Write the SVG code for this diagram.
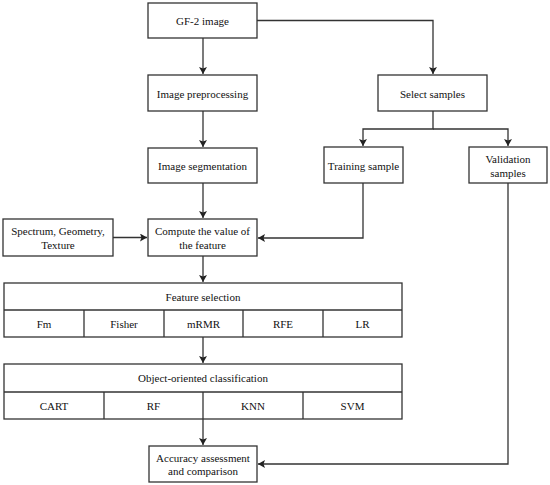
<svg xmlns="http://www.w3.org/2000/svg" width="550" height="485" viewBox="0 0 550 485">
<defs>
<marker id="ah" markerWidth="8" markerHeight="8" refX="7" refY="4" orient="auto" markerUnits="userSpaceOnUse">
<path d="M0,0 L7,4 L0,8 L1.5,4 Z" fill="#222"/>
</marker>
</defs>
<style>
rect{fill:#fff;stroke:#333;stroke-width:1.3}
.d{stroke:#333;stroke-width:1.3}
text{font-size:11px;fill:#111;text-anchor:middle;dominant-baseline:central}
.c{fill:none;stroke:#333;stroke-width:1.3}
</style>
<rect x="0" y="0" width="550" height="485" style="fill:#fff;stroke:none"/>
<g id="connectors">
<path class="c" d="M203,38 V74" marker-end="url(#ah)"/>
<path class="c" d="M203,111 V147" marker-end="url(#ah)"/>
<path class="c" d="M203,183 V218" marker-end="url(#ah)"/>
<path class="c" d="M113,237.5 H147" marker-end="url(#ah)"/>
<path class="c" d="M257,20.5 H433 V74" marker-end="url(#ah)"/>
<path class="c" d="M433,111 V129 H363 V146" marker-end="url(#ah)"/>
<path class="c" d="M433,129 H508 V146" marker-end="url(#ah)"/>
<path class="c" d="M363,183 V238 H258" marker-end="url(#ah)"/>
<path class="c" d="M508,183 V464 H258" marker-end="url(#ah)"/>
<path class="c" d="M203,256 V282" marker-end="url(#ah)"/>
<path class="c" d="M203,337 V363" marker-end="url(#ah)"/>
<path class="c" d="M203,419 V445" marker-end="url(#ah)"/>
</g>
<g font-family="'Liberation Serif', 'Times New Roman', serif">
<g id="gf2"><rect x="148" y="3" width="109" height="35"/><text x="202.5" y="21">GF-2 image</text></g>
<g id="preprocessing"><rect x="148" y="75" width="109" height="36"/><text x="202.5" y="93.5">Image preprocessing</text></g>
<g id="segmentation"><rect x="148" y="148" width="109" height="35"/><text x="202.5" y="166">Image segmentation</text></g>
<g id="compute"><rect x="148" y="219" width="109" height="37"/><text x="202.5" y="231">Compute the value of</text><text x="202.5" y="244.5">the feature</text></g>
<g id="spectrum"><rect x="3" y="219" width="110" height="37"/><text x="58" y="231">Spectrum, Geometry,</text><text x="58" y="244.5">Texture</text></g>
<g id="select"><rect x="378" y="75" width="109" height="36"/><text x="432.5" y="93.5">Select samples</text></g>
<g id="training"><rect x="324" y="147" width="79" height="36"/><text x="363.5" y="165.5">Training sample</text></g>
<g id="validation"><rect x="469" y="147" width="78" height="36"/><text x="508" y="159">Validation</text><text x="508" y="172.5">samples</text></g>
<g id="featuresel">
<rect x="4" y="283" width="398" height="54"/>
<line class="d" x1="4" y1="310" x2="402" y2="310"/>
<line class="d" x1="84" y1="310" x2="84" y2="337"/>
<line class="d" x1="164" y1="310" x2="164" y2="337"/>
<line class="d" x1="243" y1="310" x2="243" y2="337"/>
<line class="d" x1="323" y1="310" x2="323" y2="337"/>
<text x="203" y="297">Feature selection</text>
<text x="44" y="324">Fm</text><text x="124" y="324">Fisher</text><text x="203.5" y="324">mRMR</text><text x="283" y="324">RFE</text><text x="362.5" y="324">LR</text>
</g>
<g id="classification">
<rect x="4" y="364" width="398" height="55"/>
<line class="d" x1="4" y1="392" x2="402" y2="392"/>
<line class="d" x1="104" y1="392" x2="104" y2="419"/>
<line class="d" x1="203" y1="392" x2="203" y2="419"/>
<line class="d" x1="303" y1="392" x2="303" y2="419"/>
<text x="203" y="378">Object-oriented classification</text>
<text x="54" y="405.5">CART</text><text x="153.5" y="405.5">RF</text><text x="253" y="405.5">KNN</text><text x="352.5" y="405.5">SVM</text>
</g>
<g id="accuracy"><rect x="149" y="446" width="108" height="36"/><text x="203" y="458">Accuracy assessment</text><text x="203" y="471">and comparison</text></g>
</g>
</svg>
